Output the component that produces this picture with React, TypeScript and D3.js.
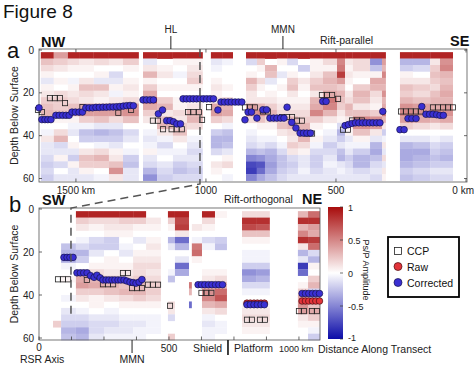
import React, {useEffect, useRef} from "react";
import * as d3 from "d3";

// each profile value covers a 3 km depth row, starting 1 km below the surface
const DEPTH_TOP = 1;
const DEPTH_STEP = 3;

// ---- (a) rift-parallel transect, distance in km from the SE end ----
const edgesA1 = [1635, 1585, 1531, 1488, 1431, 1373, 1319, 1258];
const colsA1 = [
    [0.9, 0.25, 0.15, 0.05, -0.1, 0.05, 0.1, 0.2, 0.25, 0.3, 0.1, 0.0, -0.05, 0.1, -0.1, -0.1, -0.15, -0.2, -0.15, -0.2],
    [0.4, 0.2, 0.1, 0.0, 0.05, 0.0, 0.15, 0.2, 0.2, 0.25, 0.05, 0.0, 0.15, 0.3, -0.15, -0.1, 0.05, -0.15, 0.0, -0.1],
    [0.9, 0.15, 0.05, 0.0, -0.05, 0.05, 0.1, 0.15, 0.25, 0.3, 0.05, -0.05, -0.1, 0.0, 0.05, -0.1, -0.2, 0.05, -0.1, -0.1],
    [0.9, 0.1, 0.05, 0.0, 0.1, 0.25, 0.15, 0.1, 0.35, 0.4, 0.2, -0.05, -0.25, -0.2, 0.0, 0.1, 0.25, 0.2, 0.05, -0.1],
    [0.9, 0.15, 0.0, 0.05, -0.1, 0.25, 0.1, 0.05, 0.35, 0.4, 0.25, -0.1, -0.3, -0.2, -0.05, 0.15, 0.3, 0.2, 0.0, -0.05],
    [0.9, 0.1, 0.0, -0.15, -0.1, 0.05, -0.05, 0.1, 0.35, 0.4, 0.15, -0.1, -0.25, -0.2, -0.1, 0.05, 0.1, 0.25, 0.45, 0.1],
    [0.9, 0.2, 0.05, 0.0, 0.05, 0.1, 0.05, 0.15, 0.4, 0.45, 0.25, 0.0, -0.15, -0.1, 0.0, -0.05, -0.2, -0.25, -0.1, -0.1],
];
const edgesA2 = [1242, 1188, 1127, 1073, 1012];
const colsA2 = [
    [0.9, -0.1, 0.1, 0.3, 0.05, 0.2, 0.35, 0.7, 0.35, 0.2, 0.1, 0.0, -0.05, -0.1, -0.05, 0.05, -0.1, -0.15, -0.3, -0.45],
    [0.9, 0.0, 0.05, 0.1, 0.0, 0.05, 0.0, 0.2, 0.3, 0.1, 0.25, 0.3, 0.1, -0.05, -0.15, -0.05, 0.0, -0.1, -0.15, -0.2],
    [0.9, 0.05, 0.0, -0.05, 0.0, 0.05, 0.0, 0.05, 0.05, 0.15, 0.1, 0.2, 0.25, 0.1, 0.0, -0.05, -0.1, -0.2, -0.25, -0.15],
    [0.9, 0.05, 0.1, 0.15, 0.2, 0.05, 0.0, 0.05, 0.1, 0.3, 0.3, 0.15, 0.0, -0.05, -0.1, -0.15, -0.1, -0.15, -0.2, -0.15],
];
const edgesA3 = [981, 938, 896];
const colsA3 = [
    [0.9, -0.1, -0.05, 0.0, 0.05, 0.1, 0.05, 0.1, 0.35, 0.4, 0.2, 0.0, -0.2, -0.3, -0.3, -0.15, 0.0, 0.1, 0.05, 0.0],
    [0.9, -0.05, 0.0, 0.0, 0.0, 0.05, 0.0, 0.15, 0.3, 0.35, 0.15, -0.05, -0.25, -0.3, -0.25, -0.1, 0.05, 0.15, 0.0, -0.05],
];
const edgesA4 = [846, 804, 773, 727, 688, 646, 600, 550, 496, 465, 435, 369, 323, 308];
const colsA4 = [
    [0.9, -0.15, 0.0, 0.05, 0.3, 0.2, 0.1, 0.1, 0.4, 0.45, 0.15, 0.0, -0.05, -0.1, -0.15, -0.3, -0.5, -0.75, -0.8, -0.5],
    [0.9, 0.2, 0.05, 0.0, 0.15, 0.05, 0.0, 0.1, 0.3, 0.45, 0.25, 0.05, 0.0, -0.05, -0.1, -0.25, -0.45, -0.7, -0.6, -0.35],
    [0.9, 0.0, 0.3, 0.25, -0.1, 0.0, 0.05, 0.1, 0.2, 0.3, 0.15, 0.05, 0.0, -0.05, -0.15, -0.3, -0.35, -0.4, -0.35, -0.25],
    [0.9, 0.05, 0.0, -0.1, 0.0, 0.05, 0.0, 0.05, 0.1, 0.15, 0.2, 0.25, 0.1, 0.0, -0.05, -0.15, -0.25, -0.25, -0.2, -0.15],
    [0.9, -0.15, 0.0, 0.05, 0.2, 0.25, 0.1, 0.05, 0.1, 0.15, 0.3, 0.3, 0.15, 0.1, 0.2, 0.1, -0.15, -0.2, -0.15, -0.1],
    [0.9, 0.0, -0.2, 0.0, 0.1, 0.05, 0.0, 0.05, 0.1, 0.15, 0.2, 0.3, 0.35, 0.3, 0.15, 0.05, -0.1, -0.1, -0.05, -0.1],
    [0.9, 0.05, 0.05, 0.1, 0.2, 0.25, 0.1, 0.3, 0.35, 0.5, 0.2, 0.05, 0.0, 0.05, -0.05, -0.15, -0.2, -0.2, -0.15, -0.1],
    [0.9, 0.15, 0.05, 0.25, 0.3, 0.25, 0.35, 0.55, 0.5, 0.3, 0.1, 0.0, -0.05, -0.1, -0.2, -0.15, -0.1, -0.05, -0.1, -0.1],
    [0.9, 0.5, 0.55, 0.8, 0.4, 0.2, 0.3, 0.25, 0.2, 0.1, 0.05, -0.15, -0.3, -0.2, -0.1, -0.25, -0.3, -0.1, -0.05, -0.1],
    [0.9, 0.1, 0.05, 0.1, 0.05, 0.0, 0.1, 0.15, 0.3, 0.25, 0.1, 0.05, 0.05, -0.1, -0.05, -0.1, -0.2, -0.15, -0.1, -0.1],
    [0.9, 0.15, 0.15, 0.05, 0.0, 0.2, 0.3, 0.25, 0.1, 0.25, 0.5, 0.45, 0.25, 0.05, -0.05, -0.2, -0.3, -0.3, -0.15, -0.1],
    [0.9, -0.45, -0.25, 0.05, 0.35, 0.3, 0.15, 0.1, 0.05, 0.2, 0.45, 0.4, 0.1, -0.1, -0.3, -0.35, -0.25, -0.15, -0.1, -0.15],
    [0.9, 0.4, 0.3, 0.5, 0.35, 0.3, 0.45, 0.3, 0.35, 0.55, 0.3, 0.1, -0.2, -0.05, 0.1, -0.1, 0.15, -0.1, 0.1, 0.05],
];
const edgesA5 = [254, 204, 138, 100, 50];
const colsA5 = [
    [0.9, -0.3, -0.2, 0.05, 0.1, 0.25, 0.2, 0.3, 0.45, 0.5, 0.4, 0.2, 0.0, -0.1, -0.3, -0.35, -0.35, -0.3, -0.2, -0.25],
    [0.9, -0.3, -0.15, 0.0, 0.1, 0.2, 0.15, 0.25, 0.4, 0.45, 0.35, 0.15, 0.0, -0.1, -0.25, -0.35, -0.3, -0.25, -0.15, -0.2],
    [0.9, 0.1, 0.2, 0.25, 0.2, 0.15, 0.25, 0.3, 0.35, 0.5, 0.3, 0.1, 0.0, -0.05, -0.15, -0.2, -0.25, -0.2, -0.1, -0.15],
    [0.9, 0.45, 0.5, 0.3, 0.25, 0.3, 0.35, 0.3, 0.4, 0.45, 0.35, 0.15, 0.0, -0.1, -0.2, -0.25, -0.3, -0.2, -0.1, -0.15],
];

// [km, depth] picks along transect a
const ccpA = [
    [1646, 28], [1631, 29], [1600, 22.5], [1581, 22.5], [1562, 22.5], [1542, 24.8], [1475, 26.7], [1337, 29.3], [1288, 28],
    [1204, 33], [1185, 33], [1165, 37], [1132, 37], [1113, 37], [1093, 37], [1069, 29], [1048, 29], [1027, 29], [1015, 32.6], [988, 26.7],
    [850, 26.8], [831, 26.8], [812, 26.8], [781, 28.7], [762, 28.7], [708, 31.3], [688, 31.3], [669, 31.3], [650, 33], [631, 33],
    [612, 39], [592, 39], [554, 21], [535, 21], [515, 21], [492, 22.8], [473, 37.2], [454, 37.2], [438, 32.9], [419, 32.9], [400, 32.9],
    [250, 28.7], [231, 28.7], [212, 28.7], [193, 28.7], [174, 28.7], [127, 26.8], [108, 26.8], [88, 26.8], [69, 26.8], [50, 26.8],
];
const correctedA = [
    [1642, 27], [1631, 32.5], [1619, 32.5], [1608, 32.5], [1596, 32.5],
    [1577, 30.5], [1564, 30.5], [1551, 30.5], [1538, 30.5], [1526, 30.5],
    [1515, 29], [1502, 29], [1488, 29], [1475, 29],
    [1462, 27], [1449, 27], [1436, 27], [1423, 26.8], [1410, 26.8], [1396, 26.7], [1383, 26.7], [1370, 26.6],
    [1357, 26.6], [1344, 26.5], [1331, 26.4], [1318, 26.2], [1305, 26], [1292, 25.9], [1279, 26],
    [1242, 23.3], [1229, 23.3], [1215, 23.3], [1202, 23.3], [1183, 29.8], [1167, 28],
    [1151, 33], [1138, 33], [1125, 33.5], [1112, 34.5], [1098, 34.5],
    [1088, 22.8], [1075, 22.8], [1062, 22.8], [1049, 22.8], [1036, 22.8], [1023, 22.8], [1010, 22.8], [997, 22.8], [984, 22.8], [971, 22.8],
    [954, 28], [942, 24.3], [929, 24.3], [915, 24.3], [902, 24.3], [888, 24.3], [875, 24.3], [862, 24.3],
    [850, 32.6], [838, 29], [825, 29], [804, 31.8], [781, 27.9], [767, 27.9],
    [754, 31.8], [740, 31.8], [727, 31.8], [713, 31.8], [700, 31.8], [688, 26.7], [670, 33.8], [654, 36.4],
    [638, 38.8], [625, 38.8], [612, 38.8], [598, 38.8], [551, 24], [538, 24],
    [465, 35.3], [452, 34.8], [438, 34.3], [425, 34], [412, 34], [398, 34], [385, 34], [371, 34], [358, 34], [344, 34], [331, 34],
    [320, 28.7], [254, 37.2], [238, 37.2], [223, 32], [208, 32], [192, 32], [170, 26.4],
    [154, 30], [140, 30], [127, 30], [113, 30.2], [100, 30.5], [87, 30.5],
];

// ---- (b) rift-orthogonal transect, distance in km from the RSR axis ----
const edgesB0 = [54, 85, 142];
const colsB0 = [
    [0, 0, 0, 0, 0, 0, 0, 0, 0, 0, 0, 0, 0, 0, 0, 0, 0, 0.2, 0, 0],
    [0, 0, 0, 0, 0, -0.25, -0.3, -0.35, -0.05, 0, 0.05, 0, 0, -0.05, 0, -0.1, -0.15, -0.2, -0.3, -0.25],
];
const edgesB1 = [142, 192, 250, 308, 362, 412, 469];
const colsB1 = [
    [0.9, 0.2, 0.1, 0.0, -0.05, -0.15, -0.3, -0.2, 0.0, 0.1, 0.35, 0.4, 0.2, 0.1, 0.0, -0.05, -0.15, -0.2, -0.35, -0.3],
    [0.9, 0.15, 0.05, 0.0, -0.15, -0.2, -0.1, 0.0, 0.05, 0.15, 0.3, 0.35, 0.2, 0.05, 0.05, 0.0, -0.1, -0.15, -0.15, -0.1],
    [0.9, 0.15, 0.1, 0.05, -0.2, -0.2, 0.0, 0.05, 0.05, 0.1, 0.2, 0.3, 0.25, 0.1, 0.0, -0.05, -0.1, -0.15, -0.1, -0.05],
    [0.9, 0.2, 0.1, 0.05, 0.0, -0.05, -0.1, 0.0, 0.05, 0.1, 0.15, 0.25, 0.3, 0.15, 0.05, 0.0, -0.05, -0.1, -0.1, -0.05],
    [0.9, 0.2, 0.05, 0.0, -0.1, 0.0, 0.05, 0.1, 0.15, 0.15, 0.2, 0.3, 0.3, 0.2, 0.05, 0.0, -0.05, -0.1, -0.05, -0.05],
    [0.0, 0.1, 0.05, 0.0, 0.05, 0.1, 0.05, 0.1, 0.15, 0.1, 0.15, 0.2, 0.2, 0.15, 0.05, 0.0, -0.05, -0.05, -0.05, 0.0],
];
const edgesB2 = [496, 523, 577, 588, 627];
const colsB2 = [
    [0.9, 0.2, 0.05, 0.0, -0.3, -0.1, 0.0, 0.0, 0.0, -0.05, -0.25, 0.0, 0.0, 0.0, 0.15, 0.1, -0.15, 0.0, 0.0, 0.2],
    [0.9, 0.75, 0.8, 0.1, -0.6, -0.3, 0.0, -0.1, -0.6, -0.35, 0.0, 0.0, 0.0, 0.0, 0.0, 0.0, 0.0, 0.0, 0.0, 0.0],
    [0, 0, 0, 0, 0, 0, 0, 0, 0, 0, 0, 0.55, 0.3, 0, -0.6, 0, 0, 0, 0, 0],
    [0, 0, 0.1, 0, -0.05, 0.55, 0.6, 0.05, 0, 0, 0, 0, 0, 0, 0, 0, 0, 0, 0, 0],
];
const edgesB4 = [627, 677, 723];
const colsB4 = [
    [0.9, 0.15, 0.05, 0.0, -0.15, -0.05, 0.0, 0.0, 0.0, 0.05, 0.1, 0.35, 0.45, 0.5, 0.3, 0.1, -0.05, -0.1, -0.05, -0.05],
    [0.05, 0.0, 0.0, 0.0, -0.2, -0.25, 0.0, 0.0, 0.0, 0.05, 0.15, 0.3, 0.6, 0.7, 0.35, 0.15, 0.0, -0.05, -0.05, 0.0],
];
const edgesB5 = [781, 835, 888];
const colsB5 = [
    [0.15, 0.85, 0.75, 0.25, 0.05, 0.0, -0.05, -0.05, -0.2, -0.45, -0.35, -0.15, -0.05, 0.0, 0.05, 0.1, 0.15, 0.1, 0.05, 0.0],
    [0.15, 0.85, 0.7, 0.25, 0.05, 0.0, -0.05, -0.05, -0.2, -0.4, -0.3, -0.15, -0.05, 0.0, 0.05, 0.1, 0.15, 0.1, 0.05, 0.0],
];
const edgesB6 = [996, 1035, 1081];
const colsB6 = [
    [0.3, 0.85, 0.3, 0.5, 0.85, 0.1, -0.3, -0.1, -0.8, -0.6, 0.0, 0.05, 0.2, 0.35, 0.45, 0.4, 0.1, 0.05, 0.0, 0.0],
    [0.6, 0.85, 0.4, 0.35, 0.8, 0.6, -0.15, -0.3, 0.05, 0.0, 0.2, 0.3, -0.2, -0.3, 0.25, 0.35, 0.2, 0.05, -0.05, -0.2],
];

const ccpB = [
    [73, 32.7], [92, 32.7], [112, 32.7], [184, 33], [246, 35], [265, 35], [285, 35], [323, 29.8], [342, 29.8],
    [358, 36.8], [377, 36.8], [396, 36.8], [419, 35.2], [438, 35.2], [458, 35.2], [504, 45],
    [625, 39], [644, 39], [663, 39], [800, 51.5], [819, 51.5], [850, 51.5], [869, 51.5],
    [1000, 47.5], [1019, 47.5], [1050, 47.5], [1069, 47.5],
];
const rawB = [
    [800, 43.8], [813, 43.8], [827, 43.8], [840, 43.8], [854, 43.8], [867, 43.8],
    [1012, 42.8], [1025, 42.8], [1038, 42.8], [1052, 42.8], [1065, 42.8], [1079, 42.8],
];
const correctedB = [
    [96, 22.5], [108, 22.5], [119, 22.5], [131, 22.5],
    [146, 29.7], [159, 29.7], [172, 29.7], [185, 29.7], [198, 31], [212, 31.8], [223, 30.8], [235, 32],
    [246, 33], [258, 33], [269, 33], [281, 33], [292, 33], [304, 33], [315, 33], [327, 33],
    [338, 33.5], [350, 34], [362, 34.2], [373, 34.5], [385, 34], [396, 32.8],
    [612, 35.2], [625, 35.2], [638, 35.2], [652, 35.2], [665, 35.2], [679, 35.2], [692, 35.2], [706, 35.2],
    [800, 44.5], [813, 44.5], [827, 44.5], [840, 44.5], [854, 44.5], [867, 44.5],
    [1012, 39.3], [1025, 39.3], [1038, 39.3], [1052, 39.3], [1065, 39.3], [1079, 39.3],
];

const depthTicks = [0, 20, 40, 60];
const distTicksA = [1500, 1000, 500, 0];
const distLabelsA = ["1500 km", "1000", "500", "0 km"];
const minorTicksB = [0, 125, 250, 375, 500, 625, 750, 875, 1000];
const ampTicks = [1, 0.5, 0, -0.5, -1];
const landmarksA = [["HL", 1135], ["MMN", 704]] as [string, number][];
const HINGE_A = 1023;   // km on a where the b transect branches off
const HINGE_B = 123;

const FONT = "'Liberation Sans', Arial, sans-serif";

type Seg = [number[], number[][]];

const App: React.FC = () => {
    const svgRef = useRef<SVGSVGElement | null>(null);

    useEffect(() => {
        if (!svgRef.current) return;
        const svg = d3.select(svgRef.current);
        svg.selectAll("*").remove();
        svg.attr("font-family", FONT);

        const color = d3.scaleLinear<string>()
            .domain([-1, 0, 1])
            .range(["#0b0ba8", "#ffffff", "#a80c0c"])
            .clamp(true);

        const xA = d3.scaleLinear().domain([1642, 0]).range([39, 466]);
        const yA = d3.scaleLinear().domain([0, 60]).range([50, 178.5]);
        const xB = d3.scaleLinear().domain([0, 1081]).range([39, 320]);
        const yB = d3.scaleLinear().domain([0, 60]).range([209, 338]);

        const drawHeat = (g: any, x: any, y: any, segs: Seg[]) => {
            const cells: { x0: number; x1: number; j: number; v: number }[] = [];
            segs.forEach(([edges, cols]) => cols.forEach((col, i) => col.forEach((v, j) => {
                if (v !== 0) cells.push({x0: edges[i], x1: edges[i + 1], j, v});
            })));
            g.selectAll(null)
                .data(cells)
                .enter()
                .append("rect")
                .attr("x", (d: any) => Math.min(x(d.x0), x(d.x1)))
                .attr("width", (d: any) => Math.abs(x(d.x1) - x(d.x0)))
                .attr("y", (d: any) => y(DEPTH_TOP + d.j * DEPTH_STEP))
                .attr("height", (d: any) => y(DEPTH_TOP + (d.j + 1) * DEPTH_STEP) - y(DEPTH_TOP + d.j * DEPTH_STEP) + 0.3)
                .attr("fill", (d: any) => color(d.v));
        };

        const drawPicks = (g: any, x: any, y: any, ccp: number[][], raw: number[][], corr: number[][]) => {
            g.selectAll(null).data(ccp).enter().append("rect")
                .attr("x", (d: number[]) => x(d[0]) - 2.6)
                .attr("y", (d: number[]) => y(d[1]) - 2.6)
                .attr("width", 5.2).attr("height", 5.2)
                .attr("fill", "none").attr("stroke", "#222").attr("stroke-width", 0.8);
            g.selectAll(null).data(raw).enter().append("circle")
                .attr("cx", (d: number[]) => x(d[0]))
                .attr("cy", (d: number[]) => y(d[1]))
                .attr("r", 3.3)
                .attr("fill", "#e2343a").attr("stroke", "#4a0c10").attr("stroke-width", 0.7);
            g.selectAll(null).data(corr).enter().append("circle")
                .attr("cx", (d: number[]) => x(d[0]))
                .attr("cy", (d: number[]) => y(d[1]))
                .attr("r", 3.3)
                .attr("fill", "#3a2fd2").attr("stroke", "#16124e").attr("stroke-width", 0.7);
        };

        const drawFrame = (g: any, x0: number, y0: number, x1: number, y1: number, y: any, rightTicks: boolean) => {
            g.append("rect").attr("x", x0).attr("y", y0).attr("width", x1 - x0).attr("height", y1 - y0)
                .attr("fill", "none").attr("stroke", "#555").attr("stroke-width", 0.8);
            depthTicks.forEach(t => {
                g.append("line").attr("x1", x0).attr("x2", x0 + 3).attr("y1", y(t)).attr("y2", y(t))
                    .attr("stroke", "#444").attr("stroke-width", 0.8);
                if (rightTicks) g.append("line").attr("x1", x1).attr("x2", x1 - 3).attr("y1", y(t)).attr("y2", y(t))
                    .attr("stroke", "#444").attr("stroke-width", 0.8);
                g.append("text").attr("x", x0 - 5).attr("y", y(t) + 3.5).attr("text-anchor", "end")
                    .attr("font-size", 10).attr("fill", "#222").text(t);
            });
            g.append("text")
                .attr("transform", `translate(18,${(y0 + y1) / 2}) rotate(-90)`)
                .attr("text-anchor", "middle").attr("font-size", 10.5).attr("fill", "#222")
                .text("Depth Below Surface");
        };

        // ---------- panel a ----------
        const ga = svg.append("g");
        drawHeat(ga, xA, yA, [[edgesA1, colsA1], [edgesA2, colsA2], [edgesA3, colsA3], [edgesA4, colsA4], [edgesA5, colsA5]]);
        drawFrame(ga, 39, 49, 467, 182, yA, true);
        distTicksA.forEach((t, i) => {
            ga.append("line").attr("x1", xA(t)).attr("x2", xA(t)).attr("y1", 49).attr("y2", 52.5)
                .attr("stroke", "#444").attr("stroke-width", 0.8);
            ga.append("line").attr("x1", xA(t)).attr("x2", xA(t)).attr("y1", 182).attr("y2", 178.5)
                .attr("stroke", "#444").attr("stroke-width", 0.8);
            const last = i === distTicksA.length - 1;
            ga.append("text").attr("x", last ? 474 : xA(t)).attr("y", 194)
                .attr("text-anchor", last ? "end" : "middle")
                .attr("font-size", 10).attr("fill", "#222").text(distLabelsA[i]);
        });
        drawPicks(ga, xA, yA, ccpA, [], correctedA);
        landmarksA.forEach(([name, km]) => {
            ga.append("line").attr("x1", xA(km)).attr("x2", xA(km)).attr("y1", 36).attr("y2", 49)
                .attr("stroke", "#222").attr("stroke-width", 1);
            ga.append("text").attr("x", xA(km)).attr("y", 33).attr("text-anchor", "middle")
                .attr("font-size", 10).attr("fill", "#222").text(name);
        });
        ga.append("text").attr("x", 320).attr("y", 44).attr("font-size", 10.5).attr("fill", "#222").text("Rift-parallel");
        ga.append("text").attr("x", 41).attr("y", 46.5).attr("font-size", 14.5).attr("font-weight", "bold").attr("fill", "#111").text("NW");
        ga.append("text").attr("x", 450).attr("y", 45.5).attr("font-size", 14.5).attr("font-weight", "bold").attr("fill", "#111").text("SE");
        ga.append("text").attr("x", 7).attr("y", 58).attr("font-size", 22).attr("fill", "#111").text("a");

        // ---------- panel b ----------
        const gb = svg.append("g");
        drawHeat(gb, xB, yB, [[edgesB0, colsB0], [edgesB1, colsB1], [edgesB2, colsB2], [edgesB4, colsB4], [edgesB5, colsB5], [edgesB6, colsB6]]);
        drawFrame(gb, 39, 208, 320, 340, yB, false);
        minorTicksB.forEach(t => {
            gb.append("line").attr("x1", xB(t)).attr("x2", xB(t)).attr("y1", 340).attr("y2", 336.5)
                .attr("stroke", "#444").attr("stroke-width", 0.8);
        });
        drawPicks(gb, xB, yB, ccpB, rawB, correctedB);

        const bottom = (x: number, y: number, s: string, size: number, anchor = "start") =>
            gb.append("text").attr("x", x).attr("y", y).attr("text-anchor", anchor)
                .attr("font-size", size).attr("fill", "#222").text(s);
        bottom(xB(0), 351, "0", 10, "middle");
        bottom(20, 363, "RSR Axis", 10.5);
        gb.append("line").attr("x1", xB(358)).attr("x2", xB(358)).attr("y1", 340).attr("y2", 353)
            .attr("stroke", "#222").attr("stroke-width", 1);
        bottom(xB(358), 363, "MMN", 10.5, "middle");
        bottom(xB(500), 352, "500", 10, "middle");
        bottom(193, 352, "Shield", 10.5);
        gb.append("line").attr("x1", xB(727)).attr("x2", xB(727)).attr("y1", 340).attr("y2", 355)
            .attr("stroke", "#111").attr("stroke-width", 1.6);
        bottom(234, 352, "Platform", 10.5);
        bottom(279, 351.5, "1000 km", 9);
        bottom(318, 353, "Distance Along Transect", 10.5);

        gb.append("text").attr("x", 224).attr("y", 203).attr("font-size", 10.5).attr("fill", "#222").text("Rift-orthogonal");
        gb.append("text").attr("x", 42).attr("y", 205).attr("font-size", 14.5).attr("font-weight", "bold").attr("fill", "#111").text("SW");
        gb.append("text").attr("x", 302).attr("y", 203.5).attr("font-size", 14.5).attr("font-weight", "bold").attr("fill", "#111").text("NE");
        gb.append("text").attr("x", 9).attr("y", 212).attr("font-size", 22).attr("fill", "#111").text("b");

        // dashed hinge linking the two transects
        svg.append("path")
            .attr("d", `M${xA(HINGE_A)},49 L${xA(HINGE_A)},184 L${xB(HINGE_B)},208 L${xB(HINGE_B)},318`)
            .attr("fill", "none").attr("stroke", "#555").attr("stroke-width", 1.5).attr("stroke-dasharray", "8,5");

        // ---------- colorbar ----------
        const defs = svg.append("defs");
        const grad = defs.append("linearGradient").attr("id", "amp").attr("x1", 0).attr("x2", 0).attr("y1", 0).attr("y2", 1);
        [1, 0.5, 0, -0.5, -1].forEach((v, i) => {
            grad.append("stop").attr("offset", `${i * 25}%`).attr("stop-color", color(v));
        });
        const cbY = d3.scaleLinear().domain([1, -1]).range([207, 339]);
        svg.append("rect").attr("x", 328).attr("y", 207).attr("width", 15).attr("height", 132).attr("fill", "url(#amp)");
        ampTicks.forEach(t => {
            svg.append("line").attr("x1", 343).attr("x2", 340).attr("y1", cbY(t)).attr("y2", cbY(t))
                .attr("stroke", "#333").attr("stroke-width", 0.7);
            svg.append("text").attr("x", 348).attr("y", cbY(t) + (t === -1 ? 1.5 : 3.5))
                .attr("font-size", 9).attr("fill", "#222").text(t);
        });
        svg.append("text")
            .attr("transform", `translate(363,270) rotate(90)`)
            .attr("text-anchor", "middle").attr("font-size", 9).attr("fill", "#222")
            .text("Ps/P Amplitude");

        // ---------- legend ----------
        const lg = svg.append("g");
        lg.append("rect").attr("x", 388).attr("y", 237).attr("width", 71).attr("height", 60)
            .attr("fill", "#fff").attr("stroke", "#000").attr("stroke-width", 1.8);
        lg.append("rect").attr("x", 394.5).attr("y", 247.5).attr("width", 7).attr("height", 7)
            .attr("fill", "#fff").attr("stroke", "#222").attr("stroke-width", 0.8);
        lg.append("circle").attr("cx", 398).attr("cy", 266.5).attr("r", 4)
            .attr("fill", "#e2343a").attr("stroke", "#4a0c10").attr("stroke-width", 0.7);
        lg.append("circle").attr("cx", 398).attr("cy", 282.5).attr("r", 4)
            .attr("fill", "#3a2fd2").attr("stroke", "#16124e").attr("stroke-width", 0.7);
        [["CCP", 255], ["Raw", 270.5], ["Corrected", 286.5]].forEach(([s, y]) => {
            lg.append("text").attr("x", 407).attr("y", y as number).attr("font-size", 10.5).attr("fill", "#111").text(s as string);
        });

        svg.append("text").attr("x", 3).attr("y", 18).attr("font-size", 19).attr("fill", "#111").text("Figure 8");
    }, []);

    return (
        <svg ref={svgRef} width={474} height={371}
             style={{position: "absolute", left: 0, top: 0, background: "#fff"}}/>
    );
};

export default App;
